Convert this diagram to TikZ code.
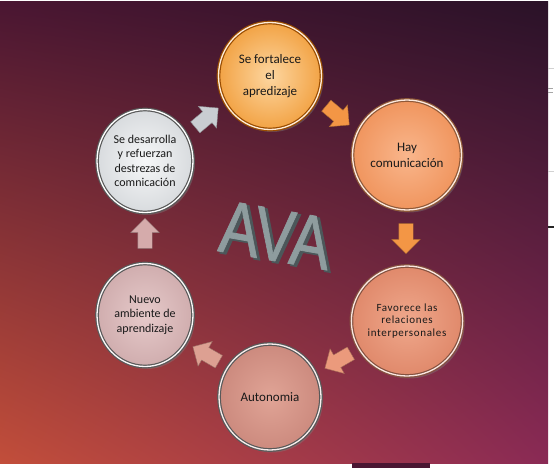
\documentclass[tikz,border=0pt]{standalone}
\usepackage{fontspec}
\setmainfont{Carlito}
\newfontfamily\avafont{Liberation Sans}
\usetikzlibrary{shapes.geometric,shapes.arrows,shadows,shadings}

\definecolor{fondoUL}{HTML}{4A1632}
\definecolor{fondoUR}{HTML}{2A1228}
\definecolor{fondoLL}{HTML}{C24E3A}
\definecolor{fondoLR}{HTML}{8A2A55}
\definecolor{avafrente}{HTML}{8E9C9E}
\definecolor{avalado}{HTML}{4C575A}

\definecolor{fortIn}{HTML}{FDD6A0}
\definecolor{fortOut}{HTML}{F2A345}
\definecolor{hayIn}{HTML}{F9B68C}
\definecolor{hayOut}{HTML}{F0955E}
\definecolor{favIn}{HTML}{EFA88C}
\definecolor{favOut}{HTML}{E0896B}
\definecolor{autIn}{HTML}{E0A496}
\definecolor{autOut}{HTML}{CC8A7E}
\definecolor{nueIn}{HTML}{E6CACA}
\definecolor{nueOut}{HTML}{D0ADAE}
\definecolor{desIn}{HTML}{F6F7F8}
\definecolor{desOut}{HTML}{D8DBDE}

\definecolor{flGris}{HTML}{C9CDD2}
\definecolor{flNaranja}{HTML}{F39645}
\definecolor{flSalmon}{HTML}{EB9A7C}
\definecolor{flRosa}{HTML}{DDA092}
\definecolor{flPalo}{HTML}{D5ABAB}

\begin{document}
\begin{tikzpicture}[x=1pt,y=-1pt,
    bola/.style={ellipse, inner sep=0pt, align=center, text=black!90,
      line width=1.2pt, double distance=1.3pt,
      drop shadow={shadow xshift=2pt,shadow yshift=-2.5pt,opacity=0.4}},
    flecha/.style={single arrow, inner xsep=0pt, inner ysep=7pt, minimum height=30pt,
      single arrow head extend=7pt,
      draw=#1!70!black, line width=0.4pt, fill=#1}]
      \def\letra{\fontsize{75}{75}\selectfont\avafont}

      \useasboundingbox (0,0) rectangle (554,468);
      \fill[white] (0,0) rectangle (554,468);
      \shade[upper left=fondoUL, upper right=fondoUR, lower left=fondoLL,
        lower right=fondoLR] (0,2) rectangle (548,463);

      % restos de la captura
      \draw[gray!35, line width=0.6pt] (548,68) -- (554,68);
      \draw[gray!70, line width=0.6pt] (548,88) -- (553,88);
      \draw[gray!70, line width=0.6pt] (548,92) -- (553,92);
      \draw[gray!35, line width=0.6pt] (548,171) -- (554,171);
      \draw[black!85, line width=1.6pt] (548,227) -- (554,227);
      \fill[fondoUL] (352,463) rectangle (430,468);

      % AVA en relieve
      \node[text=avalado, xscale=0.8, rotate=-8] (sombra) at (278,237) {\letra\addfontfeature{FakeBold=2}AVA};
      \node[text=avafrente, xscale=0.8, rotate=-8] (ava) at (275,235) {\letra\addfontfeature{FakeBold=1}AVA};

      % ciclo
      \node[bola, minimum width=103pt, minimum height=107pt, draw=orange!60!black,
        double=white!85!orange, inner color=fortIn, outer color=fortOut,
        font=\fontsize{13}{16}\selectfont] (fortalece) at (270,76) {Se fortalece\\el\\apredizaje};
      \node[bola, minimum width=109pt, minimum height=110pt, draw=hayOut!60!black,
        double=white!80!hayOut, inner color=hayIn, outer color=hayOut,
        font=\fontsize{13}{16}\selectfont] (comunicacion) at (407,155) {Hay\\comunicación};
      \node[bola, minimum width=109pt, minimum height=110pt, draw=favOut!60!black,
        double=white!80!favOut, inner color=favIn, outer color=favOut,
        font=\fontsize{11}{12.5}\selectfont\addfontfeature{LetterSpace=6}] (relaciones) at (407,321) {Favorece las\\relaciones\\interpersonales};
      \node[bola, minimum width=102pt, minimum height=106pt, draw=gray!70!black,
        double=white!85!autOut, inner color=autIn, outer color=autOut,
        font=\fontsize{13}{16}\selectfont] (autonomia) at (270,397) {Autonomia};
      \node[bola, minimum width=96pt, minimum height=103pt, draw=gray!70!black,
        double=white!90!nueOut, inner color=nueIn, outer color=nueOut,
        font=\fontsize{12}{14.5}\selectfont] (ambiente) at (145,315) {Nuevo\\ambiente de\\aprendizaje};
      \node[bola, minimum width=96pt, minimum height=103pt, draw=gray!70!black,
        double=white, inner color=desIn, outer color=desOut,
        font=\fontsize{12}{14.5}\selectfont] (destrezas) at (145,161) {Se desarrolla\\y refuerzan\\destrezas de\\comnicación};

      \node[flecha=flGris, rotate=40] (fl1) at (204,120) {};
      \node[flecha=flNaranja, rotate=-40] (fl2) at (335,113) {};
      \node[flecha=flNaranja, rotate=-90] (fl3) at (406,235) {};
      \node[flecha=flSalmon, rotate=210] (fl4) at (341,359) {};
      \node[flecha=flRosa, rotate=150] (fl5) at (209,356) {};
      \node[flecha=flPalo, rotate=90] (fl6) at (145,237) {};

    \end{tikzpicture}
\end{document}
